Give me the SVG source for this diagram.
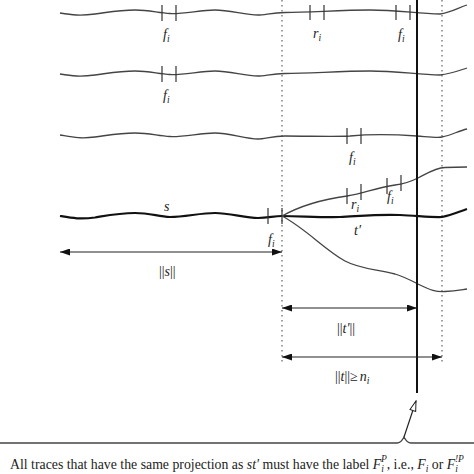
<svg xmlns="http://www.w3.org/2000/svg" width="474" height="474" viewBox="0 0 474 474">
<defs>
<style>
.trace{fill:none;stroke:#444;stroke-width:1.3}
.thick{fill:none;stroke:#111;stroke-width:2.2}
.tick{stroke:#333;stroke-width:1.2}
.dot{stroke:#888;stroke-width:1.6;stroke-dasharray:1.5,3.5}
.lbl{font-family:"Liberation Serif",serif;font-size:14px;font-style:italic;fill:#222}
.sub{font-size:9.5px}
.norm{font-family:"Liberation Serif",serif;font-size:14px;fill:#222}
.cap{font-family:"Liberation Serif",serif;font-size:13.8px;fill:#222}
.arr{stroke:#222;stroke-width:1.2;fill:none}
</style>
<marker id="ah" viewBox="0 0 10 7" refX="10" refY="3.5" markerWidth="10" markerHeight="7" markerUnits="userSpaceOnUse" orient="auto-start-reverse">
<path d="M0,0 L10,3.5 L0,7 Z" fill="#111"/>
</marker>
<marker id="oh" viewBox="0 0 12 8" refX="11" refY="4" markerWidth="12" markerHeight="8" markerUnits="userSpaceOnUse" orient="auto">
<path d="M1,1 L11,4 L1,7 Z" fill="#fff" stroke="#222" stroke-width="1"/>
</marker>
</defs>
<rect width="474" height="474" fill="#fff"/>

<g id="guides">
<line class="dot" x1="282" y1="0" x2="282" y2="365"/>
<line class="dot" x1="442" y1="0" x2="442" y2="365"/>
</g>

<g id="trace1">
<path class="trace" d="M60,13 C72,15 80,16 95,14 C110,12 120,10 135,10 C150,10 158,13 170,13.5 C185,14 200,10 215,10 C230,10 245,15 258,15 C265,15 272,12.5 285,12.5 C310,12.5 340,10 370,10 C395,10 415,13 440,14 C450,13 458,8 467,5"/>
<line class="tick" x1="162" y1="5" x2="162" y2="21"/>
<line class="tick" x1="176" y1="5" x2="176" y2="21"/>
<line class="tick" x1="310" y1="5" x2="310" y2="20"/>
<line class="tick" x1="324" y1="5" x2="324" y2="20"/>
<line class="tick" x1="396" y1="5" x2="396" y2="20"/>
<line class="tick" x1="410" y1="5" x2="410" y2="20"/>
<text class="lbl" x="163" y="39">f<tspan class="sub" dy="3">i</tspan></text>
<text class="lbl" x="313" y="38">r<tspan class="sub" dy="3">i</tspan></text>
<text class="lbl" x="398" y="39">f<tspan class="sub" dy="3">i</tspan></text>
</g>

<g id="trace2">
<path class="trace" d="M60,74 C72,76 80,77 95,75 C110,73 120,71 135,71 C150,71 158,74 170,74.5 C185,75 200,71 215,71 C230,71 245,76 258,76 C265,76 272,73.5 285,73.5 C310,73.5 340,71 370,71 C395,71 415,74 440,75 C450,74 458,71 467,68"/>
<line class="tick" x1="162" y1="66" x2="162" y2="82"/>
<line class="tick" x1="176" y1="66" x2="176" y2="82"/>
<text class="lbl" x="163" y="100">f<tspan class="sub" dy="3">i</tspan></text>
</g>

<g id="trace3">
<path class="trace" d="M60,135 C72,137 80,139 95,137 C110,135 120,133 135,133 C150,133 158,136 170,136.5 C185,137 200,133 215,133 C230,133 245,139 258,139 C265,139 272,136 285,136 C310,136 335,137 350,136 C370,134 390,134 417,136 C430,137 438,138 442,137 C452,135 458,131 467,129"/>
<line class="tick" x1="347" y1="128" x2="347" y2="144"/>
<line class="tick" x1="361" y1="128" x2="361" y2="144"/>
<text class="lbl" x="349" y="162">f<tspan class="sub" dy="3">i</tspan></text>
</g>

<g id="trace-s">
<path class="thick" d="M60,216 C72,218 80,219.5 95,217.5 C110,215 120,213 135,213 C150,213 158,216.5 170,217 C185,217 200,213 215,213 C230,213 245,218 258,218 C268,218 274,216 282,216 C300,216 320,217.5 340,217 C360,216 380,214 400,215 C420,216 432,217.5 442,217 C452,215 458,212 467,209"/>
<line class="tick" x1="268" y1="208" x2="268" y2="224"/>
<line class="tick" x1="282" y1="208" x2="282" y2="224"/>
<text class="lbl" x="164" y="211">s</text>
<text class="lbl" x="268" y="244">f<tspan class="sub" dy="3">i</tspan></text>
<text class="lbl" x="354" y="235">t′</text>
</g>

<g id="branch-up">
<path class="trace" d="M282,216 C300,206 325,199 347,196 C365,193 375,188 395,185 C405,184 412,181 418,178 C428,173 435,168 445,167.5 C455,167 460,167 467,167"/>
<line class="tick" x1="347" y1="188" x2="347" y2="204"/>
<line class="tick" x1="361" y1="184" x2="361" y2="200"/>
<line class="tick" x1="387" y1="178" x2="387" y2="194"/>
<line class="tick" x1="401" y1="175" x2="401" y2="191"/>
<text class="lbl" x="351" y="209">r<tspan class="sub" dy="3">i</tspan></text>
<text class="lbl" x="387" y="201">f<tspan class="sub" dy="3">i</tspan></text>
</g>

<g id="branch-down">
<path class="trace" d="M282,216 C305,228 325,250 345,261 C360,269 375,269 395,274 C405,277 412,281 420,285 C430,290 436,292 445,291.5 C455,291 460,290 467,289"/>
</g>

<g id="cut">
<line x1="417" y1="0" x2="417" y2="393" stroke="#111" stroke-width="2"/>
</g>

<g id="connectors">
<line class="arr" x1="60" y1="252" x2="282" y2="252" marker-start="url(#ah)" marker-end="url(#ah)"/>
<line class="arr" x1="282" y1="308" x2="417" y2="308" marker-start="url(#ah)" marker-end="url(#ah)"/>
<line class="arr" x1="282" y1="357" x2="442" y2="357" marker-start="url(#ah)" marker-end="url(#ah)"/>
<path class="arr" d="M404,437 L416,401" marker-end="url(#oh)"/>
</g>

<g id="measures">
<text class="norm" x="159" y="276">||<tspan font-style="italic">s</tspan>||</text>
<text class="norm" x="337" y="333">||<tspan font-style="italic">t′</tspan>||</text>
<text class="norm" x="335" y="381">||<tspan font-style="italic">t</tspan>||≥<tspan font-style="italic" dx="2">n</tspan><tspan font-style="italic" class="sub" dy="3">i</tspan></text>
</g>

<g id="caption">
<path d="M0,443 L397,443 C400,443 402,441 404,437 C406,441 408,443 411,443 L474,443" fill="none" stroke="#444" stroke-width="1.3"/>
<text class="cap" x="10" y="469">All traces that have the same projection as <tspan font-style="italic">st′</tspan> must have the label <tspan font-style="italic">F</tspan><tspan font-style="italic" class="sub" dy="3">i</tspan><tspan font-style="italic" class="sub" dx="-3" dy="-10">P</tspan><tspan dy="7">, i.e., </tspan><tspan font-style="italic">F</tspan><tspan font-style="italic" class="sub" dy="3">i</tspan><tspan dy="-3"> or </tspan><tspan font-style="italic">F</tspan><tspan font-style="italic" class="sub" dy="3">i</tspan><tspan font-style="italic" class="sub" dx="-3" dy="-10">!P</tspan></text>
</g>
</svg>
